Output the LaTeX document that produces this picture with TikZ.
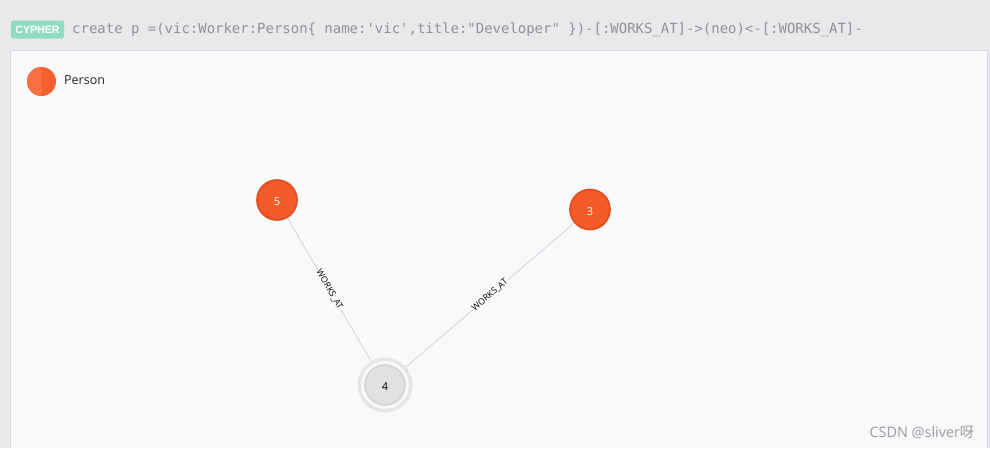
\documentclass[tikz,border=0pt]{standalone}
\usepackage{fontspec}
\setmainfont{Open Sans}
\newfontfamily\monof{DejaVu Sans Mono}
\newfontfamily\cjkf{Noto Sans CJK SC}
\newfontfamily\badgef{Liberation Sans}
\definecolor{pagebg}{HTML}{E8E9EB}
\definecolor{panelbg}{HTML}{F8F9FB}
\definecolor{panelln}{HTML}{D3D6DB}
\definecolor{badgebg}{HTML}{8FDCC2}
\definecolor{codec}{HTML}{8E9196}
\definecolor{nodefill}{HTML}{F55B2A}
\definecolor{nodeline}{HTML}{DF4E1E}
\definecolor{legendr}{HTML}{F65F2E}
\definecolor{legendl}{HTML}{F97042}
\definecolor{edgec}{HTML}{D4D6D9}
\definecolor{grayfill}{HTML}{E0E1E3}
\definecolor{grayline}{HTML}{D3D4D6}
\definecolor{ringc}{HTML}{E4E5E6}
\definecolor{markc}{HTML}{9A9B9E}
\tikzset{
  person/.style={circle,draw=nodeline,line width=1.7pt,fill=nodefill,minimum size=40pt,inner sep=0pt,text=white,text height=11pt,text depth=0pt,font=\fontsize{11}{13}\selectfont},
  graynode/.style={circle,draw=grayline,line width=1.7pt,fill=grayfill,minimum size=40pt,inner sep=0pt,text=black,text height=11pt,text depth=0pt,font=\fontsize{11}{13}\selectfont},
  halo/.style={circle,draw=ringc,line width=3.4pt,fill=none,minimum size=51.5pt,inner sep=0pt},
  edgeln/.style={draw=edgec,line width=0.9pt},
  edgelab/.style={fill=panelbg,inner sep=1pt,text=black,font=\fontsize{8.7}{10}\selectfont},
}
\begin{document}
\begin{tikzpicture}[x=1pt,y=-1pt]
\useasboundingbox (0,0) rectangle (990,448);
\fill[pagebg] (0,0) rectangle (990,448);
\fill[panelbg] (11,51) rectangle (987.5,448);
\draw[panelln,line width=1pt] (10.5,448) -- (10.5,50.5) -- (987.5,50.5) -- (987.5,448);
\node[fill=badgebg,rounded corners=2pt,minimum width=53pt,minimum height=18pt,inner sep=0pt,text=white,font=\badgef\bfseries\fontsize{10.6}{13}\selectfont] (badge) at (37.5,29.5) {CYPHER};
\node[anchor=west,inner sep=0pt,text=codec,font=\monof\fontsize{13.97}{16}\selectfont] (code) at (72,29.5) {create p =(vic:Worker:Person\{ name:'vic',title:"Developer" \})-[:WORKS\_AT]->(neo)<-[:WORKS\_AT]-};
% legend
\fill[legendr] (41.5,81.5) circle[radius=14.5pt];
\begin{scope}
\clip (20,60) rectangle (41.5,100);
\fill[legendl] (41.5,81.5) circle[radius=14.5pt];
\end{scope}
\node[anchor=west,inner sep=0pt,text=black!85,font=\fontsize{12.5}{15}\selectfont] (legend) at (64,80) {Person};
% graph
\node[person] (n5) at (277,200) {5};
\node[person] (n3) at (590,209.5) {3};
\node[graynode] (n4) at (385,385) {4};
\node[halo] (h4) at (385,385) {};
\draw[edgeln] (n5) -- (h4) node[pos=0.5,sloped,edgelab] (l1) {WORKS\_AT};
\draw[edgeln] (n3) -- (h4) node[pos=0.5,sloped,edgelab] (l2) {WORKS\_AT};
\node[inner sep=0pt,text=markc,font=\fontsize{14.4}{16}\selectfont] (mark) at (922,432) {CSDN @sliver{\cjkf 呀}};
\end{tikzpicture}
\end{document}
